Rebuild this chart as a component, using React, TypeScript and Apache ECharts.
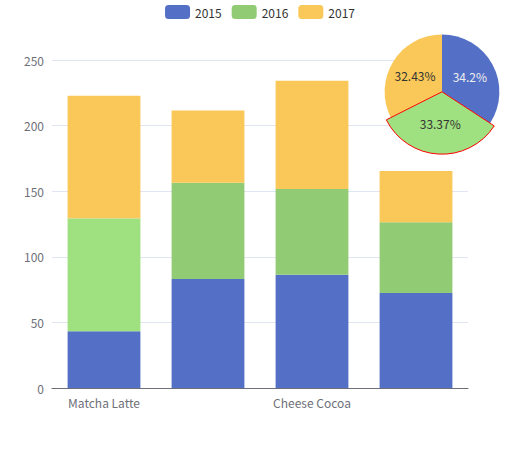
import React, { useEffect, useRef } from "react";
import * as echarts from "echarts";

const categories = ["Matcha Latte", "Milk Tea", "Cheese Cocoa", "Walnut Brownie"];
const seriesNames = ["2015", "2016", "2017"];
const values2015 = [43.3, 83.1, 86.4, 72.4];
const values2016 = [85.8, 73.4, 65.2, 53.9];
const values2017 = [93.7, 55.1, 82.5, 39.1];
const yTicks = [0, 50, 100, 150, 200, 250];
const palette = ["#5470c6", "#91cc75", "#fac858"];

const sum = (a: number[]) => a.reduce((s, v) => s + v, 0);

export default function App() {
  const ref = useRef<HTMLDivElement>(null);
  useEffect(() => {
    document.body.style.margin = "0";
    const chart = echarts.init(ref.current!, null, { renderer: "svg" });
    const allValues = [values2015, values2016, values2017];
    const axisGrey = "#6E7079";
    chart.setOption({
      animation: false,
      color: palette,
      textStyle: { fontFamily: "'Noto Sans CJK SC', sans-serif", fontSize: 12 },
      legend: {
        top: 0,
        data: seriesNames,
        itemWidth: 25,
        itemHeight: 14,
        itemGap: 10,
        textStyle: { color: "#333" },
      },
      grid: { left: 52, right: 52, top: 60, bottom: 71, containLabel: false },
      xAxis: {
        type: "category",
        data: categories,
        axisLine: { lineStyle: { color: axisGrey } },
        axisTick: { interval: 1, lineStyle: { color: axisGrey } },
        axisLabel: { interval: 1, color: axisGrey },
      },
      yAxis: {
        type: "value",
        min: yTicks[0],
        max: yTicks[yTicks.length - 1],
        interval: 50,
        axisLabel: { color: axisGrey },
        axisLine: { show: false },
        axisTick: { show: false },
        splitLine: { lineStyle: { color: "#E0E6F1" } },
      },
      series: [
        ...seriesNames.map((name, i) => ({
          name,
          type: "bar",
          stack: "total",
          barCategoryGap: "30%",
          data: allValues[i],
        })),
        {
          type: "pie",
          id: "pie",
          radius: "25%",
          center: ["85%", "20%"],
          label: { position: "inside", formatter: "{d}%", fontSize: 12 },
          emphasis: {
            scaleSize: 5,
            itemStyle: { borderColor: "red", borderWidth: 1 },
          },
          data: seriesNames.map((name, i) => ({ name, value: sum(allValues[i]) })),
        },
      ],
    });
    chart.dispatchAction({ type: "highlight", seriesIndex: 1, dataIndex: 0 });
    chart.dispatchAction({ type: "highlight", seriesIndex: 3, dataIndex: 1 });
    return () => chart.dispose();
  }, []);
  return <div ref={ref} style={{ width: 520, height: 459 }} />;
}
